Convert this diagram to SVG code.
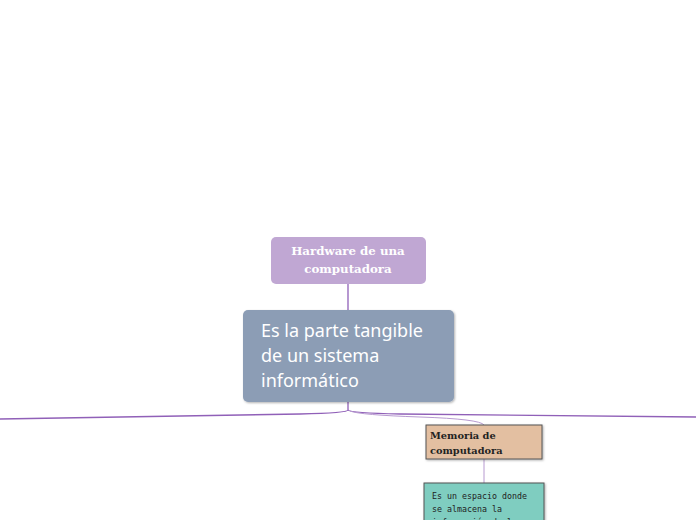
<svg xmlns="http://www.w3.org/2000/svg" width="696" height="520" viewBox="0 0 696 520">
<defs>
<style>
.edge{fill:none;stroke:#9060b8;stroke-width:1.3}
.thin{fill:none;stroke:#b79ad0;stroke-width:1}
.title{font-family:"DejaVu Serif","Liberation Serif",serif;font-weight:bold;font-size:11.8px;fill:#ffffff;text-anchor:middle}
.main{font-family:"Noto Sans","Open Sans",sans-serif;font-size:18px;fill:#ffffff}
.mem{font-family:"DejaVu Serif","Liberation Serif",serif;font-weight:bold;font-size:9.8px;fill:#222222}
.desc{font-family:"DejaVu Sans Mono","Liberation Mono",monospace;font-size:8.3px;fill:#222222}
</style>
<filter id="sh" x="-10%" y="-10%" width="130%" height="130%"><feDropShadow dx="1" dy="1" stdDeviation="1" flood-color="#000" flood-opacity="0.3"/></filter>
</defs>
<g id="connectors">
<path class="edge" d="M348,284 V311"/>
<path class="edge" d="M348,402 V410 Q348,413 300,414 L0,419"/>
<path class="edge" d="M348,410 Q350,413 400,414 L696,417"/>
<path class="thin" d="M350,411 Q360,415 420,417 Q480,419 484,425"/>
<path class="thin" d="M484,459 V483"/>
</g>
<g id="node-hardware">
<rect x="271" y="237" width="155" height="47" rx="5" fill="#c0a7d3"/>
<text class="title" x="348" y="255">Hardware de una</text>
<text class="title" x="348" y="273">computadora</text>
</g>
<g id="node-main">
<rect x="243" y="310" width="211" height="92" rx="5" fill="#8c9db5" filter="url(#sh)"/>
<text class="main" x="261" y="337">Es la parte tangible</text>
<text class="main" x="261" y="362">de un sistema</text>
<text class="main" x="261" y="387">informático</text>
</g>
<g id="node-memoria">
<rect x="426" y="425" width="116" height="34" fill="#e3bfa1" stroke="#555" stroke-width="1" filter="url(#sh)"/>
<text class="mem" x="430" y="439">Memoria de</text>
<text class="mem" x="430" y="454">computadora</text>
</g>
<g id="node-desc">
<rect x="424" y="483" width="120" height="50" fill="#7fcdc0" stroke="#555" stroke-width="1" filter="url(#sh)"/>
<text class="desc" x="432" y="499">Es un espacio donde</text>
<text class="desc" x="432" y="512">se almacena la</text>
<text class="desc" x="432" y="525">información de la</text>
</g>
</svg>
